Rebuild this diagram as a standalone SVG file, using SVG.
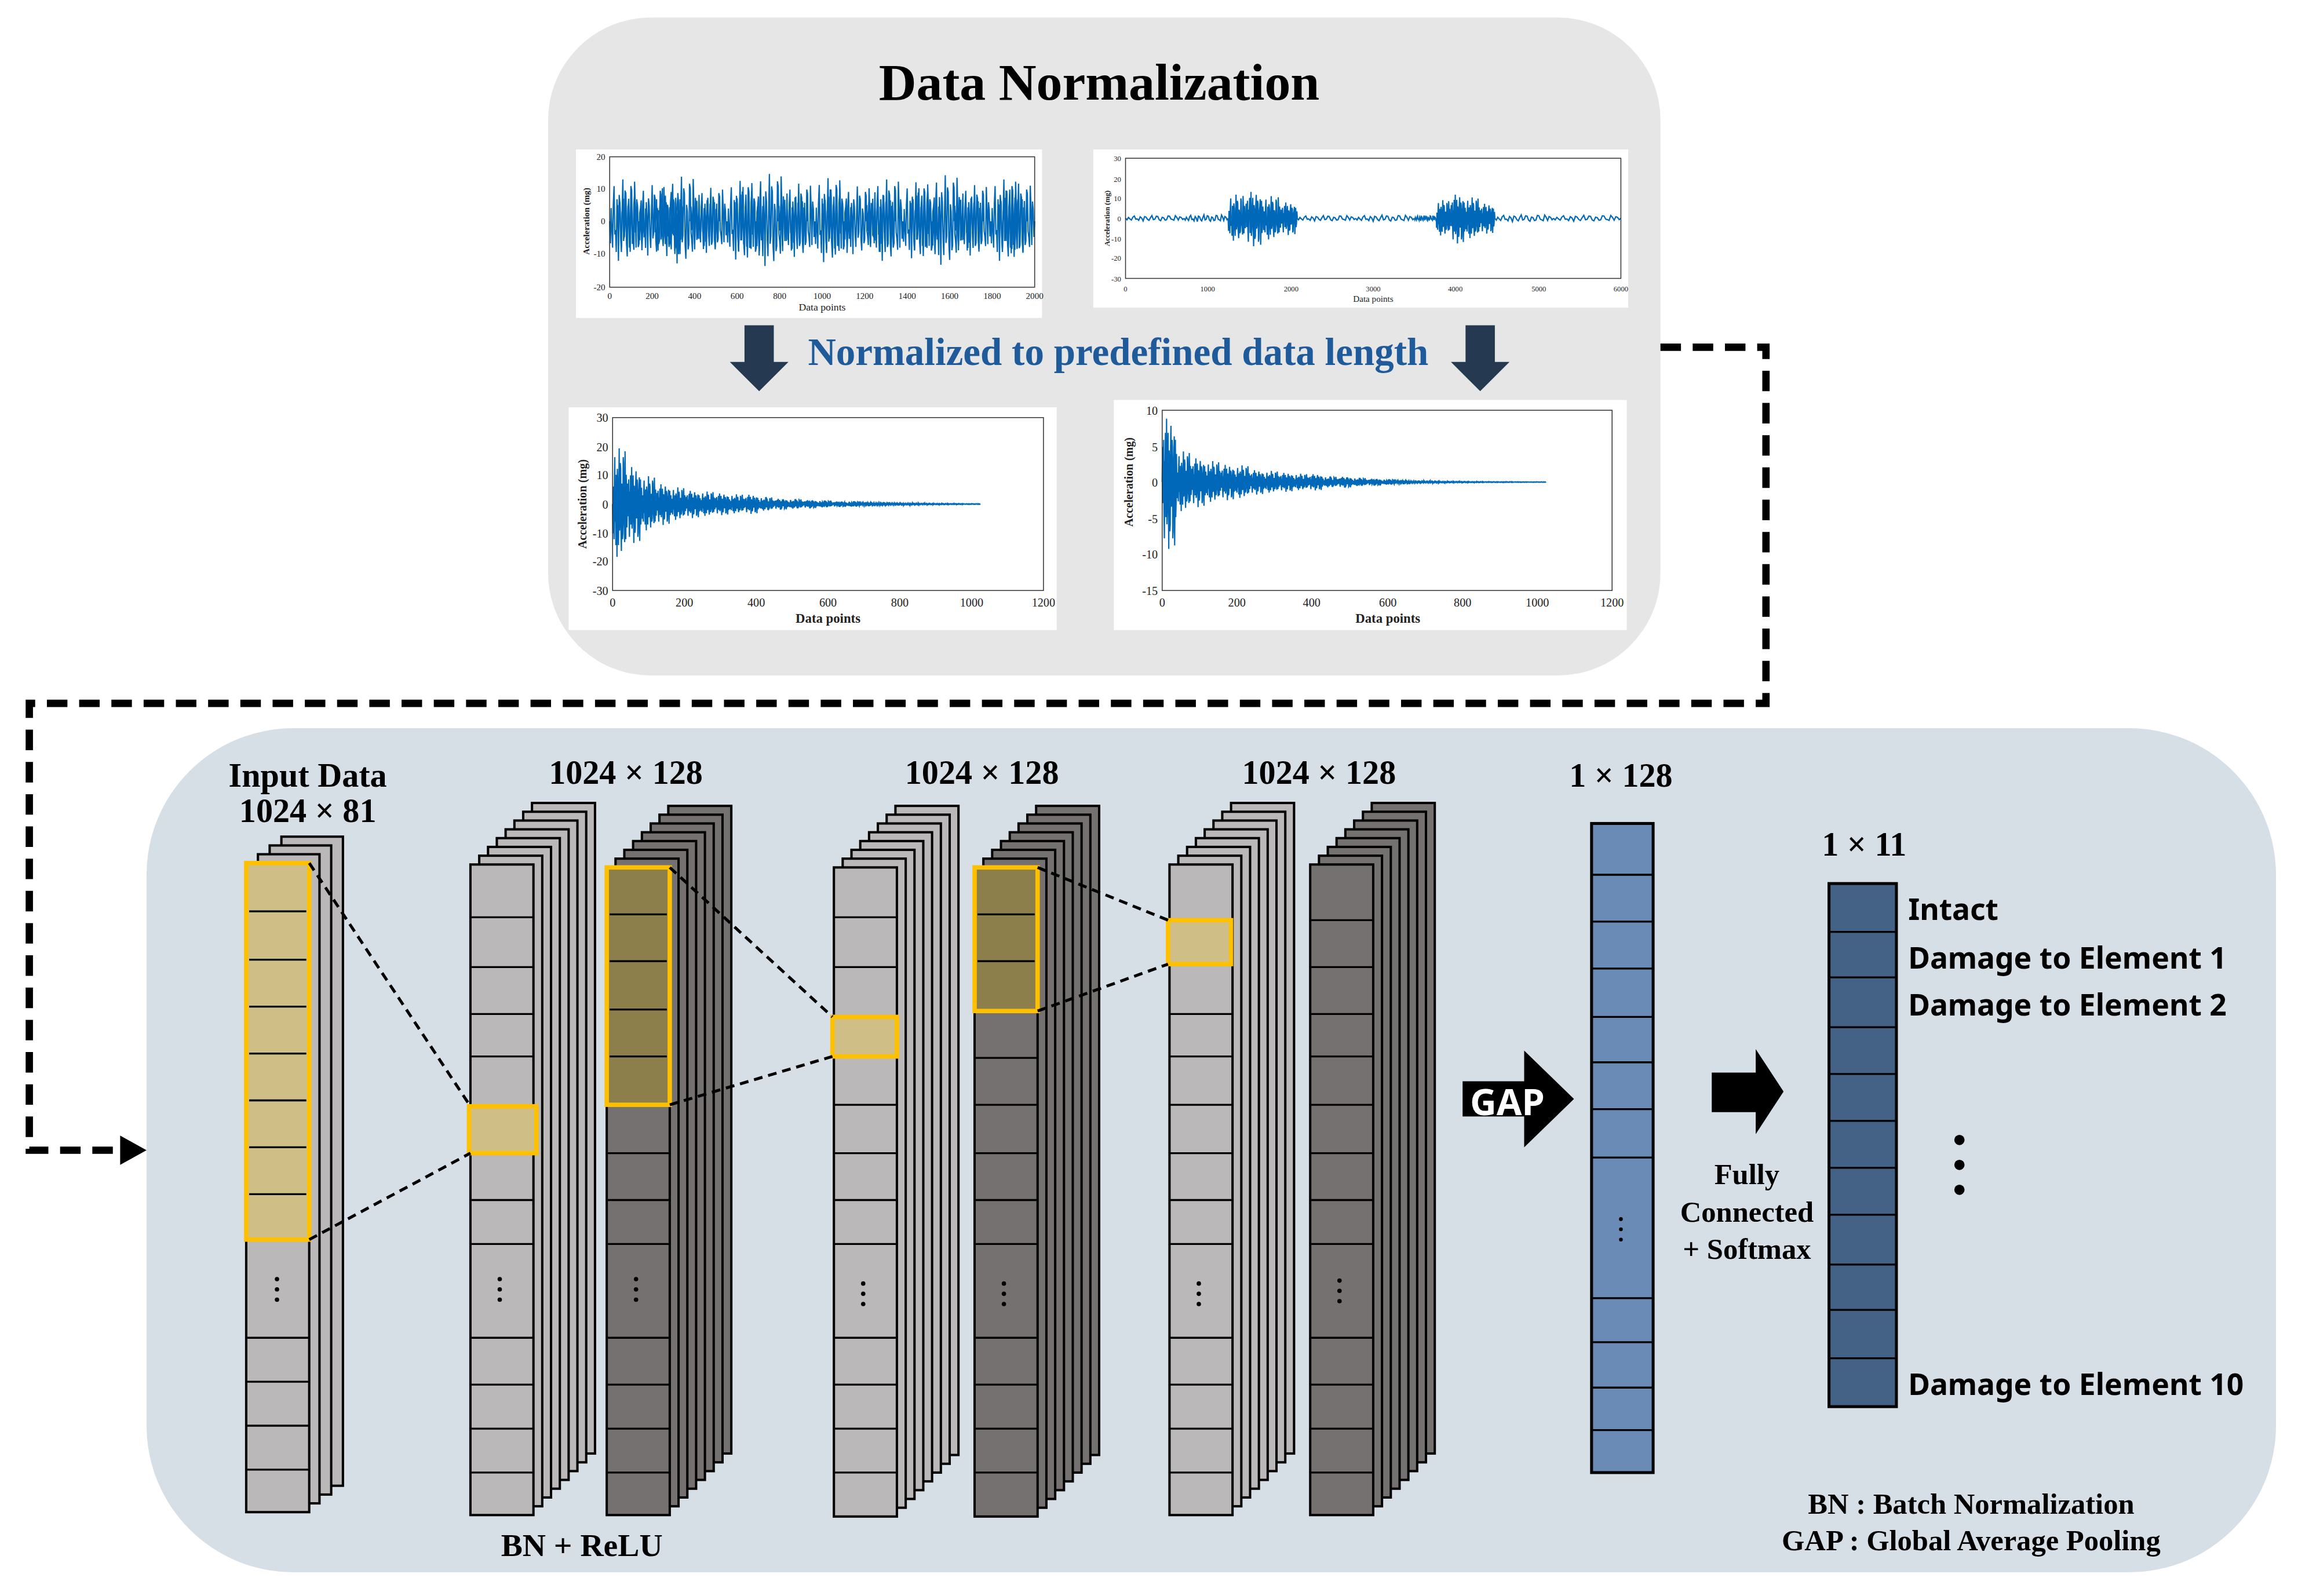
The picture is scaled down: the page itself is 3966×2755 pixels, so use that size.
<svg xmlns="http://www.w3.org/2000/svg" xmlns:xlink="http://www.w3.org/1999/xlink" width="3966" height="2755" viewBox="0 0 3966 2755">
<style>
.t{font-family:"Liberation Serif",serif;font-weight:bold;fill:#000}
.s{font-family:"Noto Sans","Liberation Sans",sans-serif;font-weight:bold;fill:#000}
.ax{fill:none;stroke:#333;stroke-width:0.6}
.tk{font-family:"Liberation Serif",serif;fill:#222}
.sig{fill:none;stroke:#0068b8;stroke-width:2.2}
.lt{fill:#bab8b8;stroke:#000;stroke-width:1.6}
.dk{fill:#767171;stroke:#000;stroke-width:1.6}
.ln{stroke:#000;stroke-width:1.3}
.hl{stroke:#ffc000;stroke-width:3}
.dl{stroke:#000;stroke-width:2;stroke-dasharray:6,4;fill:none}
</style>
<defs>
<path id="nz" d="M0,0 L1,0.5 L2,-0.3 L3,0.2 L4,0.6 L5,-0.4 L6,-0.8 L7,0.3 L8,0.2 L9,0.7 L10,-0.5 L11,-0.1 L12,0.9 L13,-0.6 L14,-0.4 L15,0.35 L16,0.7 L17,-0.2 L18,-0.95 L19,0.45 L20,0.3 L21,-0.7 L22,-0.6 L23,0.5 L24,0.8 L25,-0.35 L26,-0.2 L27,0.6 L28,0.5 L29,-0.8 L30,-0.7 L31,0.25 L32,0.4 L33,0.65 L34,-0.9 L35,-0.3 L36,0.6 L37,-0.5 L38,-0.3 L39,0.4 L40,0" vector-effect="non-scaling-stroke"/>
</defs>
<g transform="scale(2.5293)">
<g id="top-panel">
<rect x="374" y="12" width="759" height="449" rx="70" fill="#e6e6e6"/>
<text class="t" x="750" y="68" font-size="35.5" text-anchor="middle">Data Normalization</text>
<text x="763" y="249" font-size="26.5" text-anchor="middle" font-family="Liberation Serif,serif" font-weight="bold" fill="#1f5a9a">Normalized to predefined data length</text>
<path d="M508,222 H528 V247 H538 L518,267 L498,247 H508 Z" fill="#253a50"/>
<path d="M1000,222 H1020 V247 H1030 L1010,267 L990,247 H1000 Z" fill="#253a50"/>
</g>
<g id="plot1">
<rect x="393" y="102" width="318" height="115" fill="#fff"/>
<g class="sig">
<use href="#nz" transform="translate(416,151) scale(0.5,30)"/><use href="#nz" transform="translate(436,151) scale(0.5,26)"/><use href="#nz" transform="translate(456,151) scale(0.5,32)"/><use href="#nz" transform="translate(476,151) scale(0.5,24)"/><use href="#nz" transform="translate(496,151) scale(0.5,29)"/><use href="#nz" transform="translate(516,151) scale(0.5,34)"/><use href="#nz" transform="translate(536,151) scale(0.5,27)"/><use href="#nz" transform="translate(556,151) scale(0.5,31)"/><use href="#nz" transform="translate(576,151) scale(0.5,25)"/><use href="#nz" transform="translate(596,151) scale(0.5,30)"/><use href="#nz" transform="translate(616,151) scale(0.5,28)"/><use href="#nz" transform="translate(636,151) scale(0.5,33)"/><use href="#nz" transform="translate(656,151) scale(0.5,26)"/><use href="#nz" transform="translate(676,151) scale(0.5,30)"/><use href="#nz" transform="translate(686,151) scale(0.5,27)"/>
<use href="#nz" transform="translate(421,151) scale(0.5,-22)"/><use href="#nz" transform="translate(446,151) scale(0.5,-25)"/><use href="#nz" transform="translate(471,151) scale(0.5,-20)"/><use href="#nz" transform="translate(501,151) scale(0.5,-26)"/><use href="#nz" transform="translate(531,151) scale(0.5,-21)"/><use href="#nz" transform="translate(561,151) scale(0.5,-24)"/><use href="#nz" transform="translate(591,151) scale(0.5,-22)"/><use href="#nz" transform="translate(621,151) scale(0.5,-25)"/><use href="#nz" transform="translate(651,151) scale(0.5,-21)"/><use href="#nz" transform="translate(681,151) scale(0.5,-23)"/>
</g>
<rect class="ax" x="416" y="107" width="290" height="89"/>
<g class="tk" font-size="6" text-anchor="end"><text x="413" y="109">20</text><text x="413" y="131">10</text><text x="413" y="153">0</text><text x="413" y="175">-10</text><text x="413" y="198">-20</text></g>
<g class="tk" font-size="6" text-anchor="middle"><text x="416" y="204">0</text><text x="445" y="204">200</text><text x="474" y="204">400</text><text x="503" y="204">600</text><text x="532" y="204">800</text><text x="561" y="204">1000</text><text x="590" y="204">1200</text><text x="619" y="204">1400</text><text x="648" y="204">1600</text><text x="677" y="204">1800</text><text x="706" y="204">2000</text>
<text x="561" y="212" font-size="7">Data points</text>
<text transform="translate(402,151) rotate(-90)" font-size="6" font-weight="bold">Acceleration (mg)</text></g>
</g>
<g id="plot2">
<rect x="746" y="102" width="365" height="108" fill="#fff"/>
<g class="sig">
<use href="#nz" transform="translate(768,149) scale(1,2)"/><use href="#nz" transform="translate(808,149) scale(0.75,2.5)"/>
<use href="#nz" transform="translate(838,149) scale(0.3,17)"/><use href="#nz" transform="translate(850,149) scale(0.3,-20)"/><use href="#nz" transform="translate(862,149) scale(0.3,16)"/><use href="#nz" transform="translate(874,149) scale(0.28,-12)"/>
<use href="#nz" transform="translate(885,149) scale(1,2)"/><use href="#nz" transform="translate(925,149) scale(1,2.3)"/><use href="#nz" transform="translate(965,149) scale(0.375,2)"/>
<use href="#nz" transform="translate(980,149) scale(0.25,13)"/><use href="#nz" transform="translate(990,149) scale(0.25,-18)"/><use href="#nz" transform="translate(1000,149) scale(0.25,15)"/><use href="#nz" transform="translate(1010,149) scale(0.25,-11)"/>
<use href="#nz" transform="translate(1020,149) scale(1,2.5)"/><use href="#nz" transform="translate(1060,149) scale(1.15,2.2)"/>
</g>
<rect class="ax" x="768" y="108" width="338" height="82"/>
<g class="tk" font-size="5" text-anchor="end"><text x="765" y="110">30</text><text x="765" y="124">20</text><text x="765" y="137">10</text><text x="765" y="151">0</text><text x="765" y="165">-10</text><text x="765" y="178">-20</text><text x="765" y="192">-30</text></g>
<g class="tk" font-size="5" text-anchor="middle"><text x="768" y="199">0</text><text x="824" y="199">1000</text><text x="881" y="199">2000</text><text x="937" y="199">3000</text><text x="993" y="199">4000</text><text x="1050" y="199">5000</text><text x="1106" y="199">6000</text>
<text x="937" y="206" font-size="6">Data points</text>
<text transform="translate(757,149) rotate(-90)" font-size="5" font-weight="bold">Acceleration (mg)</text></g>
</g>
<g id="plot3">
<rect x="388" y="278" width="333" height="152" fill="#fff"/>
<g class="sig">
<use href="#nz" transform="translate(418,344) scale(0.25,40)"/><use href="#nz" transform="translate(428,344) scale(0.25,-28)"/><use href="#nz" transform="translate(438,344) scale(0.25,20)"/><use href="#nz" transform="translate(448,344) scale(0.25,-15)"/><use href="#nz" transform="translate(458,344) scale(0.25,12)"/><use href="#nz" transform="translate(468,344) scale(0.25,-10)"/><use href="#nz" transform="translate(478,344) scale(0.25,9)"/><use href="#nz" transform="translate(488,344) scale(0.25,-8)"/><use href="#nz" transform="translate(498,344) scale(0.25,7)"/><use href="#nz" transform="translate(508,344) scale(0.25,-7)"/><use href="#nz" transform="translate(518,344) scale(0.25,5)"/><use href="#nz" transform="translate(528,344) scale(0.25,-4)"/><use href="#nz" transform="translate(538,344) scale(0.25,3.5)"/><use href="#nz" transform="translate(548,344) scale(0.25,-3)"/><use href="#nz" transform="translate(558,344) scale(0.25,2.5)"/><use href="#nz" transform="translate(568,344) scale(0.25,-2)"/><use href="#nz" transform="translate(578,344) scale(0.25,2)"/><use href="#nz" transform="translate(588,344) scale(0.25,-1.5)"/><use href="#nz" transform="translate(598,344) scale(0.25,1.3)"/><use href="#nz" transform="translate(608,344) scale(0.25,-1)"/><use href="#nz" transform="translate(618,344) scale(0.25,0.8)"/><use href="#nz" transform="translate(628,344) scale(0.25,-0.6)"/><use href="#nz" transform="translate(638,344) scale(0.25,0.5)"/><use href="#nz" transform="translate(648,344) scale(0.25,-0.4)"/><use href="#nz" transform="translate(658,344) scale(0.275,0.3)"/>
</g>
<rect class="ax" x="418" y="285" width="294" height="118"/>
<g class="tk" font-size="8" text-anchor="end"><text x="415" y="288">30</text><text x="415" y="308">20</text><text x="415" y="327">10</text><text x="415" y="347">0</text><text x="415" y="367">-10</text><text x="415" y="386">-20</text><text x="415" y="406">-30</text></g>
<g class="tk" font-size="8" text-anchor="middle"><text x="418" y="414">0</text><text x="467" y="414">200</text><text x="516" y="414">400</text><text x="565" y="414">600</text><text x="614" y="414">800</text><text x="663" y="414">1000</text><text x="712" y="414">1200</text>
<text x="565" y="425" font-size="9" font-weight="bold">Data points</text>
<text transform="translate(400,344) rotate(-90)" font-size="8" font-weight="bold">Acceleration (mg)</text></g>
</g>
<g id="plot4">
<rect x="760" y="273" width="350" height="157" fill="#fff"/>
<g class="sig">
<use href="#nz" transform="translate(793,329) scale(0.25,-48)"/><use href="#nz" transform="translate(803,329) scale(0.25,22)"/><use href="#nz" transform="translate(813,329) scale(0.25,-18)"/><use href="#nz" transform="translate(823,329) scale(0.25,15)"/><use href="#nz" transform="translate(833,329) scale(0.25,-13)"/><use href="#nz" transform="translate(843,329) scale(0.25,12)"/><use href="#nz" transform="translate(853,329) scale(0.25,-9)"/><use href="#nz" transform="translate(863,329) scale(0.25,8)"/><use href="#nz" transform="translate(873,329) scale(0.25,-7)"/><use href="#nz" transform="translate(883,329) scale(0.25,6)"/><use href="#nz" transform="translate(893,329) scale(0.25,-6)"/><use href="#nz" transform="translate(903,329) scale(0.25,4)"/><use href="#nz" transform="translate(913,329) scale(0.25,-4)"/><use href="#nz" transform="translate(923,329) scale(0.25,3)"/><use href="#nz" transform="translate(933,329) scale(0.25,-2.5)"/><use href="#nz" transform="translate(943,329) scale(0.25,2)"/><use href="#nz" transform="translate(953,329) scale(0.25,-1.5)"/><use href="#nz" transform="translate(963,329) scale(0.25,1)"/><use href="#nz" transform="translate(973,329) scale(0.25,-0.8)"/><use href="#nz" transform="translate(983,329) scale(0.25,0.6)"/><use href="#nz" transform="translate(993,329) scale(0.25,-0.5)"/><use href="#nz" transform="translate(1003,329) scale(0.25,0.4)"/><use href="#nz" transform="translate(1013,329) scale(0.25,-0.3)"/><use href="#nz" transform="translate(1023,329) scale(0.25,0.3)"/><use href="#nz" transform="translate(1033,329) scale(0.25,-0.2)"/><use href="#nz" transform="translate(1043,329) scale(0.3,0.2)"/>
</g>
<rect class="ax" x="793" y="280" width="307" height="123"/>
<g class="tk" font-size="8" text-anchor="end"><text x="790" y="283">10</text><text x="790" y="308">5</text><text x="790" y="332">0</text><text x="790" y="357">-5</text><text x="790" y="381">-10</text><text x="790" y="406">-15</text></g>
<g class="tk" font-size="8" text-anchor="middle"><text x="793" y="414">0</text><text x="844" y="414">200</text><text x="895" y="414">400</text><text x="947" y="414">600</text><text x="998" y="414">800</text><text x="1049" y="414">1000</text><text x="1100" y="414">1200</text>
<text x="947" y="425" font-size="9" font-weight="bold">Data points</text>
<text transform="translate(773,329) rotate(-90)" font-size="8" font-weight="bold">Acceleration (mg)</text></g>
</g>
<g id="cnn-panel">
<rect x="100" y="497" width="1453" height="576" rx="100" fill="#d6dee6"/>
</g>
<g id="input">
<text class="t" x="210" y="537" font-size="23" text-anchor="middle">Input Data</text>
<text class="t" x="210" y="561" font-size="23" text-anchor="middle">1024 × 81</text>
<rect class="lt" x="192" y="571" width="42" height="443"/><rect class="lt" x="184" y="577" width="42" height="443"/><rect class="lt" x="176" y="583" width="42" height="443"/>
<rect class="lt" x="168" y="589" width="43" height="443"/>
<rect class="hl" x="168" y="589" width="43" height="257" fill="#cfbf86"/>
<g class="ln"><line x1="170" x2="209" y1="622" y2="622"/><line x1="170" x2="209" y1="655" y2="655"/><line x1="170" x2="209" y1="687" y2="687"/><line x1="170" x2="209" y1="719" y2="719"/><line x1="170" x2="209" y1="751" y2="751"/><line x1="170" x2="209" y1="783" y2="783"/><line x1="170" x2="209" y1="815" y2="815"/><line x1="168" x2="211" y1="913" y2="913"/><line x1="168" x2="211" y1="943" y2="943"/><line x1="168" x2="211" y1="973" y2="973"/><line x1="168" x2="211" y1="1003" y2="1003"/></g>
<g fill="#000"><circle cx="189" cy="873" r="1.5"/><circle cx="189" cy="880" r="1.5"/><circle cx="189" cy="887" r="1.5"/></g>
</g>
<g id="conv1">
<text class="t" x="427" y="535" font-size="23" text-anchor="middle">1024 × 128</text>
<rect class="lt" x="363" y="548" width="43" height="444"/><rect class="lt" x="357" y="554" width="43" height="444"/><rect class="lt" x="351" y="560" width="43" height="444"/><rect class="lt" x="345" y="566" width="43" height="444"/><rect class="lt" x="339" y="572" width="43" height="444"/><rect class="lt" x="333" y="578" width="43" height="444"/><rect class="lt" x="327" y="584" width="43" height="444"/>
<rect class="lt" x="321" y="590" width="43" height="444"/>
<g class="ln"><line x1="321" x2="364" y1="626" y2="626"/><line x1="321" x2="364" y1="660" y2="660"/><line x1="321" x2="364" y1="692" y2="692"/><line x1="321" x2="364" y1="721" y2="721"/><line x1="321" x2="364" y1="819" y2="819"/><line x1="321" x2="364" y1="849" y2="849"/><line x1="321" x2="364" y1="913" y2="913"/><line x1="321" x2="364" y1="945" y2="945"/><line x1="321" x2="364" y1="975" y2="975"/><line x1="321" x2="364" y1="1005" y2="1005"/></g>
<rect class="hl" x="320" y="755" width="46" height="32" fill="#cfbf86"/>
<g fill="#000"><circle cx="341" cy="873" r="1.5"/><circle cx="341" cy="880" r="1.5"/><circle cx="341" cy="887" r="1.5"/></g>
<text class="t" x="397" y="1062" font-size="22" text-anchor="middle">BN + ReLU</text>
</g>
<g id="act1">
<rect class="dk" x="456" y="550" width="43" height="442"/><rect class="dk" x="450" y="556" width="43" height="442"/><rect class="dk" x="444" y="562" width="43" height="442"/><rect class="dk" x="438" y="568" width="43" height="442"/><rect class="dk" x="432" y="574" width="43" height="442"/><rect class="dk" x="426" y="580" width="43" height="442"/><rect class="dk" x="420" y="586" width="43" height="442"/>
<rect class="dk" x="414" y="592" width="43" height="442"/>
<rect class="hl" x="414" y="592" width="43" height="162" fill="#8c7f4c"/>
<g class="ln"><line x1="416" x2="455" y1="624" y2="624"/><line x1="416" x2="455" y1="656" y2="656"/><line x1="416" x2="455" y1="689" y2="689"/><line x1="416" x2="455" y1="721" y2="721"/><line x1="414" x2="457" y1="787" y2="787"/><line x1="414" x2="457" y1="819" y2="819"/><line x1="414" x2="457" y1="849" y2="849"/><line x1="414" x2="457" y1="913" y2="913"/><line x1="414" x2="457" y1="945" y2="945"/><line x1="414" x2="457" y1="975" y2="975"/><line x1="414" x2="457" y1="1005" y2="1005"/></g>
<g fill="#000"><circle cx="434" cy="873" r="1.5"/><circle cx="434" cy="880" r="1.5"/><circle cx="434" cy="887" r="1.5"/></g>
</g>
<g id="conv2">
<text class="t" x="670" y="535" font-size="23" text-anchor="middle">1024 × 128</text>
<rect class="lt" x="611" y="550" width="43" height="443"/><rect class="lt" x="605" y="556" width="43" height="443"/><rect class="lt" x="599" y="562" width="43" height="443"/><rect class="lt" x="593" y="568" width="43" height="443"/><rect class="lt" x="587" y="574" width="43" height="443"/><rect class="lt" x="581" y="580" width="43" height="443"/><rect class="lt" x="575" y="586" width="43" height="443"/>
<rect class="lt" x="569" y="592" width="43" height="443"/>
<g class="ln"><line x1="569" x2="612" y1="626" y2="626"/><line x1="569" x2="612" y1="660" y2="660"/><line x1="569" x2="612" y1="754" y2="754"/><line x1="569" x2="612" y1="787" y2="787"/><line x1="569" x2="612" y1="819" y2="819"/><line x1="569" x2="612" y1="849" y2="849"/><line x1="569" x2="612" y1="913" y2="913"/><line x1="569" x2="612" y1="945" y2="945"/><line x1="569" x2="612" y1="975" y2="975"/><line x1="569" x2="612" y1="1005" y2="1005"/></g>
<rect class="hl" x="568" y="694" width="44" height="27" fill="#cfbf86"/>
<g fill="#000"><circle cx="589" cy="876" r="1.5"/><circle cx="589" cy="883" r="1.5"/><circle cx="589" cy="890" r="1.5"/></g>
</g>
<g id="act2">
<rect class="dk" x="707" y="550" width="43" height="443"/><rect class="dk" x="701" y="556" width="43" height="443"/><rect class="dk" x="695" y="562" width="43" height="443"/><rect class="dk" x="689" y="568" width="43" height="443"/><rect class="dk" x="683" y="574" width="43" height="443"/><rect class="dk" x="677" y="580" width="43" height="443"/><rect class="dk" x="671" y="586" width="43" height="443"/>
<rect class="dk" x="665" y="592" width="43" height="443"/>
<rect class="hl" x="665" y="592" width="43" height="98" fill="#8c7f4c"/>
<g class="ln"><line x1="667" x2="706" y1="624" y2="624"/><line x1="667" x2="706" y1="656" y2="656"/><line x1="665" x2="708" y1="722" y2="722"/><line x1="665" x2="708" y1="754" y2="754"/><line x1="665" x2="708" y1="787" y2="787"/><line x1="665" x2="708" y1="819" y2="819"/><line x1="665" x2="708" y1="849" y2="849"/><line x1="665" x2="708" y1="913" y2="913"/><line x1="665" x2="708" y1="945" y2="945"/><line x1="665" x2="708" y1="975" y2="975"/><line x1="665" x2="708" y1="1005" y2="1005"/></g>
<g fill="#000"><circle cx="685" cy="876" r="1.5"/><circle cx="685" cy="883" r="1.5"/><circle cx="685" cy="890" r="1.5"/></g>
</g>
<g id="conv3">
<text class="t" x="900" y="535" font-size="23" text-anchor="middle">1024 × 128</text>
<rect class="lt" x="840" y="548" width="43" height="444"/><rect class="lt" x="834" y="554" width="43" height="444"/><rect class="lt" x="828" y="560" width="43" height="444"/><rect class="lt" x="822" y="566" width="43" height="444"/><rect class="lt" x="816" y="572" width="43" height="444"/><rect class="lt" x="810" y="578" width="43" height="444"/><rect class="lt" x="804" y="584" width="43" height="444"/>
<rect class="lt" x="798" y="590" width="43" height="444"/>
<g class="ln"><line x1="798" x2="841" y1="692" y2="692"/><line x1="798" x2="841" y1="721" y2="721"/><line x1="798" x2="841" y1="754" y2="754"/><line x1="798" x2="841" y1="787" y2="787"/><line x1="798" x2="841" y1="819" y2="819"/><line x1="798" x2="841" y1="849" y2="849"/><line x1="798" x2="841" y1="913" y2="913"/><line x1="798" x2="841" y1="945" y2="945"/><line x1="798" x2="841" y1="975" y2="975"/><line x1="798" x2="841" y1="1005" y2="1005"/></g>
<rect class="hl" x="797" y="628" width="43" height="30" fill="#cfbf86"/>
<g fill="#000"><circle cx="818" cy="876" r="1.5"/><circle cx="818" cy="883" r="1.5"/><circle cx="818" cy="890" r="1.5"/></g>
</g>
<g id="act3">
<rect class="dk" x="936" y="548" width="43" height="444"/><rect class="dk" x="930" y="554" width="43" height="444"/><rect class="dk" x="924" y="560" width="43" height="444"/><rect class="dk" x="918" y="566" width="43" height="444"/><rect class="dk" x="912" y="572" width="43" height="444"/><rect class="dk" x="906" y="578" width="43" height="444"/><rect class="dk" x="900" y="584" width="43" height="444"/>
<rect class="dk" x="894" y="590" width="43" height="444"/>
<g class="ln"><line x1="894" x2="937" y1="628" y2="628"/><line x1="894" x2="937" y1="660" y2="660"/><line x1="894" x2="937" y1="692" y2="692"/><line x1="894" x2="937" y1="721" y2="721"/><line x1="894" x2="937" y1="754" y2="754"/><line x1="894" x2="937" y1="787" y2="787"/><line x1="894" x2="937" y1="819" y2="819"/><line x1="894" x2="937" y1="849" y2="849"/><line x1="894" x2="937" y1="913" y2="913"/><line x1="894" x2="937" y1="945" y2="945"/><line x1="894" x2="937" y1="975" y2="975"/><line x1="894" x2="937" y1="1005" y2="1005"/></g>
<g fill="#000"><circle cx="914" cy="874" r="1.5"/><circle cx="914" cy="881" r="1.5"/><circle cx="914" cy="888" r="1.5"/></g>
</g>
<g id="gap-arrow">
<path d="M998,738 H1040 V717 L1074,750 L1040,783 V762 H998 Z" fill="#000"/>
<text x="1003" y="761" font-size="25" font-family="Noto Sans,Liberation Sans,sans-serif" font-weight="bold" fill="#fff">GAP</text>
</g>
<g id="gap">
<text class="t" x="1106" y="537" font-size="23" text-anchor="middle">1 × 128</text>
<rect x="1086" y="562" width="42" height="443" fill="#6a8bb5" stroke="#000" stroke-width="2"/>
<g class="ln"><line x1="1086" x2="1128" y1="597" y2="597"/><line x1="1086" x2="1128" y1="629" y2="629"/><line x1="1086" x2="1128" y1="661" y2="661"/><line x1="1086" x2="1128" y1="694" y2="694"/><line x1="1086" x2="1128" y1="725" y2="725"/><line x1="1086" x2="1128" y1="757" y2="757"/><line x1="1086" x2="1128" y1="790" y2="790"/><line x1="1086" x2="1128" y1="886" y2="886"/><line x1="1086" x2="1128" y1="916" y2="916"/><line x1="1086" x2="1128" y1="947" y2="947"/><line x1="1086" x2="1128" y1="976" y2="976"/></g>
<g fill="#000"><circle cx="1106" cy="832" r="1.3"/><circle cx="1106" cy="839" r="1.3"/><circle cx="1106" cy="846" r="1.3"/></g>
</g>
<g id="fc-arrow">
<path d="M1168,732 H1198 V716 L1217,745 L1198,774 V759 H1168 Z" fill="#000"/>
<text class="t" x="1192" y="808" font-size="20" text-anchor="middle">Fully</text>
<text class="t" x="1192" y="834" font-size="20" text-anchor="middle">Connected</text>
<text class="t" x="1192" y="859" font-size="20" text-anchor="middle">+ Softmax</text>
</g>
<g id="output">
<text class="t" x="1272" y="584" font-size="23" text-anchor="middle">1 × 11</text>
<rect x="1248" y="603" width="46" height="357" fill="#446186" stroke="#000" stroke-width="2"/>
<g class="ln"><line x1="1248" x2="1294" y1="636" y2="636"/><line x1="1248" x2="1294" y1="667" y2="667"/><line x1="1248" x2="1294" y1="701" y2="701"/><line x1="1248" x2="1294" y1="733" y2="733"/><line x1="1248" x2="1294" y1="765" y2="765"/><line x1="1248" x2="1294" y1="797" y2="797"/><line x1="1248" x2="1294" y1="829" y2="829"/><line x1="1248" x2="1294" y1="863" y2="863"/><line x1="1248" x2="1294" y1="894" y2="894"/><line x1="1248" x2="1294" y1="927" y2="927"/></g>
<text class="s" x="1302" y="628" font-size="20.4">Intact</text>
<text class="s" x="1302" y="661" font-size="20.4">Damage to Element 1</text>
<text class="s" x="1302" y="693" font-size="20.4">Damage to Element 2</text>
<text class="s" x="1302" y="952" font-size="20.4">Damage to Element 10</text>
<g fill="#000"><circle cx="1337" cy="778" r="3.5"/><circle cx="1337" cy="795" r="3.5"/><circle cx="1337" cy="812" r="3.5"/></g>
</g>
<g id="legend">
<text class="t" x="1345" y="1033" font-size="20" text-anchor="middle">BN : Batch Normalization</text>
<text class="t" x="1345" y="1058" font-size="20" text-anchor="middle">GAP : Global Average Pooling</text>
</g>
<g id="connectors">
<path d="M1133,237 H1205 V480 H20 V785 H90" fill="none" stroke="#000" stroke-width="5" stroke-dasharray="14,8"/>
<path d="M82,775 L100,785 L82,795 Z" fill="#000"/>
<line class="dl" x1="211" y1="589" x2="321" y2="755"/><line class="dl" x1="211" y1="846" x2="321" y2="787"/>
<line class="dl" x1="457" y1="592" x2="568" y2="694"/><line class="dl" x1="457" y1="754" x2="568" y2="721"/>
<line class="dl" x1="708" y1="592" x2="797" y2="628"/><line class="dl" x1="708" y1="690" x2="797" y2="658"/>
</g>
</g>
</svg>
